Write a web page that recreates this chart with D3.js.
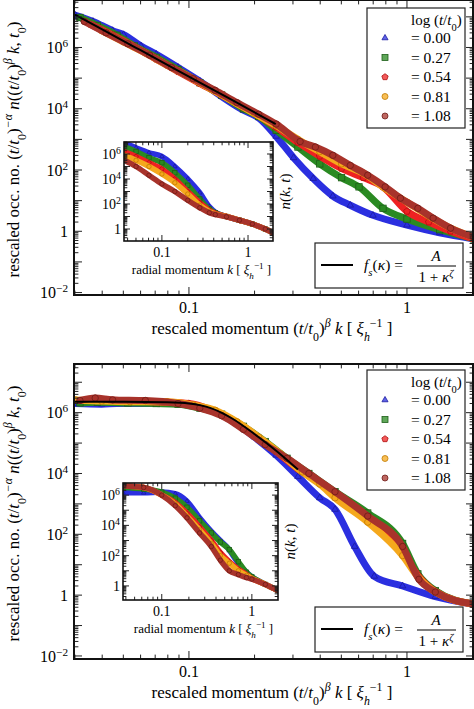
<!DOCTYPE html>
<html><head><meta charset="utf-8">
<script src="https://cdn.jsdelivr.net/npm/d3@7"></script>
<style>body{margin:0;background:#fff} svg, svg text {font-family:'Liberation Serif','DejaVu Serif',serif}</style>
</head><body>
<script>
// all values are [log10 k, log10 n]
var seriesNames = ["= 0.00", "= 0.27", "= 0.54", "= 0.81", "= 1.08"];
var seriesColors = ["#2b2fe0", "#2a8a22", "#ee2222", "#f5a81c", "#a8332b"];
var seriesStroke = ["#1a1aa0", "#1d5f18", "#b01010", "#c07a00", "#6e1c16"];
var seriesShapes = ["tri", "sq", "pent", "circ", "circ"];

// top panel, rescaled
var topFit = [[-1.523,7.07],[-1.398,6.59],[-1.222,5.91],[-1.0,5.05],[-0.824,4.37],[-0.602,3.50]];
var topBlue = [[-1.52,7.05],[-1.44,6.85],[-1.35,6.55],[-1.3,6.42],[-1.22,6.05],[-1.15,5.78],[-1.05,5.35],[-0.95,4.9],[-0.85,4.4],[-0.75,3.95],[-0.68,3.7],[-0.6,3.1],[-0.52,2.4],[-0.43,1.72],[-0.34,1.15],[-0.26,0.85],[-0.156,0.52],[0,0.2],[0.15,-0.05],[0.307,-0.25]];
var topGreen = [[-1.5,6.98],[-1.42,6.72],[-1.33,6.4],[-1.25,6.05],[-1.15,5.68],[-1.05,5.28],[-0.95,4.85],[-0.85,4.45],[-0.75,4.0],[-0.68,3.75],[-0.6,3.3],[-0.5,2.75],[-0.4,2.2],[-0.3,1.75],[-0.22,1.45],[-0.11,0.75],[0,0.4],[0.15,0.05],[0.307,-0.25]];
var topRed = [[-1.45,6.75],[-1.35,6.4],[-1.25,6.02],[-1.15,5.62],[-1.05,5.22],[-0.95,4.83],[-0.85,4.45],[-0.75,4.05],[-0.68,3.78],[-0.6,3.4],[-0.5,2.9],[-0.4,2.45],[-0.3,2.05],[-0.2,1.75],[-0.11,1.45],[0,0.65],[0.1,0.3],[0.2,0.0],[0.307,-0.25]];
var topOrange = [[-1.4,6.55],[-1.3,6.18],[-1.2,5.82],[-1.1,5.42],[-1.0,5.05],[-0.9,4.65],[-0.8,4.25],[-0.7,3.85],[-0.6,3.45],[-0.5,3.0],[-0.4,2.6],[-0.3,2.2],[-0.2,1.9],[-0.1,1.4],[0,0.95],[0.1,0.5],[0.2,0.1],[0.307,-0.2]];
var topBrown = [[-1.48,6.85],[-1.38,6.48],[-1.28,6.12],[-1.18,5.75],[-1.08,5.35],[-0.98,4.98],[-0.88,4.6],[-0.78,4.2],[-0.68,3.82],[-0.6,3.5],[-0.49,2.93],[-0.42,2.75],[-0.34,2.48],[-0.26,2.15],[-0.18,1.83],[-0.1,1.45],[-0.03,1.08],[0.05,0.75],[0.12,0.43],[0.2,0.1],[0.307,-0.2]];

// top inset, raw
var topInBlue = [[-1.44,6.9],[-1.3,6.5],[-1.15,6.1],[-1.0,5.8],[-0.85,5.0],[-0.7,4.0],[-0.56,2.9],[-0.45,1.8],[-0.38,1.35],[-0.25,1.0],[-0.1,0.7],[0.05,0.4],[0.2,0.0],[0.29,-0.3]];
var topInGreen = [[-1.44,6.6],[-1.3,6.2],[-1.15,5.7],[-1.0,5.3],[-0.85,4.5],[-0.7,3.5],[-0.56,2.4],[-0.45,1.6],[-0.38,1.3],[-0.25,1.0],[-0.1,0.7],[0.05,0.4],[0.2,0.0],[0.29,-0.3]];
var topInRed = [[-1.44,6.2],[-1.3,5.8],[-1.15,5.3],[-1.0,4.8],[-0.85,4.0],[-0.7,3.0],[-0.56,2.1],[-0.45,1.5],[-0.38,1.25],[-0.25,1.0],[-0.1,0.7],[0.05,0.4],[0.2,0.0],[0.29,-0.3]];
var topInOrange = [[-1.44,5.9],[-1.3,5.5],[-1.15,5.0],[-1.0,4.4],[-0.85,3.7],[-0.7,2.8],[-0.56,1.9],[-0.45,1.4],[-0.38,1.2],[-0.25,1.0],[-0.1,0.7],[0.05,0.4],[0.2,0.0],[0.29,-0.3]];
var topInBrown = [[-1.44,5.5],[-1.3,5.0],[-1.15,4.3],[-1.0,3.6],[-0.85,3.0],[-0.7,2.3],[-0.56,1.7],[-0.45,1.3],[-0.38,1.15],[-0.25,0.98],[-0.1,0.7],[0.05,0.4],[0.2,0.0],[0.29,-0.3]];

// bottom panel, rescaled
var botFit = [[-1.53,6.36],[-1.3,6.36],[-1.1,6.34],[-1.0,6.3],[-0.9,6.15],[-0.8,5.8],[-0.7,5.3],[-0.6,4.75],[-0.5,4.13]];
var botBlue = [[-1.52,6.3],[-1.4,6.28],[-1.33,6.3],[-1.2,6.3],[-1.1,6.32],[-1.0,6.25],[-0.9,6.08],[-0.8,5.72],[-0.7,5.2],[-0.6,4.6],[-0.5,3.9],[-0.4,3.2],[-0.33,2.82],[-0.24,1.6],[-0.15,0.62],[-0.02,0.3],[0.13,-0.05],[0.31,-0.3]];
var botGreen = [[-1.5,6.32],[-1.42,6.34],[-1.28,6.32],[-1.15,6.3],[-1.05,6.28],[-0.95,6.15],[-0.85,5.95],[-0.75,5.55],[-0.65,5.05],[-0.55,4.5],[-0.45,4.0],[-0.33,3.4],[-0.18,2.7],[-0.02,1.7],[0.05,0.7],[0.13,0.15],[0.31,-0.3]];
var botRed = [[-1.48,6.4],[-1.38,6.42],[-1.25,6.38],[-1.12,6.35],[-1.0,6.3],[-0.9,6.1],[-0.8,5.75],[-0.7,5.25],[-0.6,4.72],[-0.5,4.15],[-0.4,3.7],[-0.33,3.3],[-0.18,2.5],[-0.02,1.4],[0.05,0.65],[0.13,0.12],[0.31,-0.3]];
var botOrange = [[-1.52,6.42],[-1.4,6.38],[-1.27,6.36],[-1.1,6.36],[-0.98,6.25],[-0.88,6.08],[-0.78,5.7],[-0.68,5.2],[-0.58,4.65],[-0.48,4.05],[-0.4,3.65],[-0.33,3.2],[-0.18,2.4],[-0.02,1.3],[0.05,0.6],[0.13,0.1],[0.31,-0.3]];
var botBrown = [[-1.5,6.4],[-1.43,6.48],[-1.35,6.42],[-1.2,6.4],[-1.05,6.3],[-0.95,6.15],[-0.85,5.9],[-0.75,5.45],[-0.65,4.95],[-0.55,4.5],[-0.45,4.0],[-0.33,3.4],[-0.18,2.6],[-0.02,1.6],[0.055,0.52],[0.13,0.1],[0.31,-0.3]];

// bottom inset, raw
var botInBlue = [[-1.43,6.15],[-1.2,6.15],[-1.0,6.2],[-0.85,6.1],[-0.72,5.6],[-0.58,4.5],[-0.45,3.6],[-0.35,3.0],[-0.28,2.6],[-0.15,1.5],[-0.06,0.9],[0.0,0.6],[0.15,0.1],[0.29,-0.3]];
var botInGreen = [[-1.43,6.5],[-1.2,6.4],[-1.0,6.2],[-0.85,5.8],[-0.72,5.2],[-0.58,4.3],[-0.45,3.5],[-0.35,2.9],[-0.25,2.4],[-0.15,1.6],[-0.06,0.9],[0.0,0.6],[0.15,0.1],[0.29,-0.3]];
var botInRed = [[-1.43,6.6],[-1.2,6.5],[-1.0,6.0],[-0.85,5.5],[-0.72,4.8],[-0.58,3.9],[-0.45,3.0],[-0.35,2.2],[-0.25,1.6],[-0.15,1.1],[-0.06,0.75],[0.0,0.5],[0.15,0.1],[0.29,-0.3]];
var botInOrange = [[-1.43,6.6],[-1.2,6.5],[-1.0,6.0],[-0.85,5.4],[-0.72,4.6],[-0.58,3.7],[-0.45,2.8],[-0.35,2.0],[-0.25,1.5],[-0.15,1.0],[-0.06,0.7],[0.0,0.5],[0.15,0.1],[0.29,-0.3]];
var botInBrown = [[-1.43,6.6],[-1.2,6.5],[-1.0,6.0],[-0.85,5.3],[-0.72,4.5],[-0.58,3.5],[-0.45,2.6],[-0.35,1.7],[-0.25,1.0],[-0.15,0.75],[-0.06,0.55],[0.0,0.45],[0.15,0.1],[0.29,-0.3]];

var svg = d3.select("body").append("svg").attr("width", 474).attr("height", 709)
  .attr("font-family", "'Liberation Serif','DejaVu Serif',serif");

// rich text helper: parts are [text, flag] with flag i / sup / sub / isub
function rich(sel, parts) {
  parts.forEach(function(p) {
    var t = sel.append("tspan").text(p[0]);
    var f = p[1] || "";
    if (f.indexOf("i") >= 0) t.attr("font-style", "italic");
    if (f.indexOf("sup") >= 0) t.attr("baseline-shift", "super").attr("font-size", "70%");
    if (f.indexOf("sub") >= 0) t.attr("baseline-shift", "sub").attr("font-size", "70%");
  });
}

function drawSeries(g, x, y, sets, w, r) {
  var line = d3.line().x(function(d){return x(Math.pow(10,d[0]));}).y(function(d){return y(Math.pow(10,d[1]));}).curve(d3.curveMonotoneX);
  sets.forEach(function(s, i) {
    g.append("path").attr("d", line(s)).attr("fill","none").attr("stroke", seriesColors[i]).attr("stroke-width", w).attr("stroke-linecap","round");
    s.forEach(function(d) {
      var cx = x(Math.pow(10,d[0])), cy = y(Math.pow(10,d[1]));
      marker(g, seriesShapes[i], cx, cy, r, i);
    });
  });
}

// pentagon outline for the red markers
function pentagon(r) {
  var pts = d3.range(5).map(function(k) {
    var a = -Math.PI / 2 + k * 2 * Math.PI / 5;
    return [r * 1.1 * Math.cos(a), r * 1.1 * Math.sin(a)];
  });
  return "M" + pts.join("L") + "Z";
}

function marker(g, shape, cx, cy, r, i) {
  var m;
  if (shape == "tri") m = g.append("path").attr("d", d3.symbol(d3.symbolTriangle, r*r*1.8)()).attr("transform","translate("+cx+","+cy+")");
  else if (shape == "sq") m = g.append("rect").attr("x", cx-r).attr("y", cy-r).attr("width", 2*r).attr("height", 2*r);
  else if (shape == "pent") m = g.append("path").attr("d", pentagon(r)).attr("transform","translate("+cx+","+cy+")");
  else m = g.append("circle").attr("cx", cx).attr("cy", cy).attr("r", r);
  m.attr("fill", seriesColors[i]).attr("fill-opacity", 0.75).attr("stroke", seriesStroke[i]).attr("stroke-width", 0.8);
}

function logTicks(g, scale, lo, hi, axis, len, other) {
  for (var e = lo; e <= hi; e++) {
    for (var m = 1; m < 10; m++) {
      var v = m * Math.pow(10, e);
      var p = scale(v);
      var r = scale.range();
      if (p < Math.min(r[0], r[1]) - 0.1 || p > Math.max(r[0], r[1]) + 0.1) continue;
      var l = m == 1 ? len : len * 0.55;
      other.forEach(function(o) {
        if (axis == "x") g.append("line").attr("x1", p).attr("x2", p).attr("y1", o[0]).attr("y2", o[0] + o[1]*l);
        else g.append("line").attr("y1", p).attr("y2", p).attr("x1", o[0]).attr("x2", o[0] + o[1]*l);
      });
    }
  }
  g.selectAll("line").attr("stroke", "#222").attr("stroke-width", 1);
}

function yTickLabels(g, y, exps, xpos, size) {
  exps.forEach(function(e) {
    var t = g.append("text").attr("x", xpos).attr("y", y(Math.pow(10, e)) + size*0.35).attr("text-anchor","end").attr("font-size", size);
    if (e == 0) t.text("1");
    else rich(t, [["10"], [e < 0 ? "\u2212" + (-e) : String(e), "sup"]]);
  });
}

function panel(oy, d) {
  var x = d3.scaleLog().domain([0.0297, 2.03]).range([74, 474]);
  var y = d3.scaleLog().domain([Math.pow(10, d.ylo), Math.pow(10, d.yhi)]).range([oy + d.h, oy]);
  var g = svg.append("g");
  var clipId = "c" + oy;
  svg.append("clipPath").attr("id", clipId).append("rect").attr("x", 74).attr("y", oy).attr("width", 400).attr("height", d.h);
  var gd = g.append("g").attr("clip-path", "url(#" + clipId + ")");
  drawSeries(gd, x, y, d.main, 7, 3.2);
  var fl = d3.line().x(function(p){return x(Math.pow(10,p[0]));}).y(function(p){return y(Math.pow(10,p[1]));}).curve(d3.curveMonotoneX);
  gd.append("path").attr("d", fl(d.fit)).attr("fill","none").attr("stroke","#000").attr("stroke-width",2);

  var gt = g.append("g");
  logTicks(gt, x, -2, 0, "x", 8, [[oy + d.h, -1], [oy, 1]]);
  logTicks(gt.append("g"), y, -2, 7, "y", 8, [[74, 1], [474, -1]]);
  g.append("rect").attr("x", 74).attr("y", oy).attr("width", 399).attr("height", d.h).attr("fill","none").attr("stroke","#111").attr("stroke-width", 2);
  yTickLabels(g, y, [6, 4, 2, 0, -2], 68, 16);
  [[0.1, "0.1"], [1, "1"]].forEach(function(t) {
    g.append("text").attr("x", x(t[0])).attr("y", oy + d.h + 18).attr("text-anchor","middle").attr("font-size", 16).text(t[1]);
  });
  var xl = g.append("text").attr("x", 272).attr("y", oy + d.h + 39).attr("text-anchor","middle").attr("font-size", 17);
  rich(xl, [["rescaled momentum ("], ["t", "i"], ["/"], ["t", "i"], ["0", "sub"], [")"], ["\u03b2", "isup"], [" "], ["k", "i"], [" [ "], ["\u03be", "i"], ["h", "isub"], ["\u22121", "sup"], [" ]"]]);
  var yl = g.append("text").attr("transform", "translate(19," + (oy + d.h/2 + 2) + ") rotate(-90)").attr("text-anchor","middle").attr("font-size", 17);
  rich(yl, [["rescaled occ. no. ("], ["t", "i"], ["/"], ["t", "i"], ["0", "sub"], [")"], ["\u2212\u03b1", "isup"], [" "], ["n", "i"], ["(("], ["t", "i"], ["/"], ["t", "i"], ["0", "sub"], [")"], ["\u03b2", "isup"], [" "], ["k", "i"], [", "], ["t", "i"], ["0", "sub"], [")"]]);

  // inset
  var ix = d3.scaleLog().domain([Math.pow(10, d.in.xlo), Math.pow(10, d.in.xhi)]).range([d.in.x0, d.in.x1]);
  var iy = d3.scaleLog().domain([Math.pow(10, d.in.ylo), Math.pow(10, d.in.yhi)]).range([d.in.y1, d.in.y0]);
  g.append("rect").attr("x", d.in.x0).attr("y", d.in.y0).attr("width", d.in.x1 - d.in.x0).attr("height", d.in.y1 - d.in.y0).attr("fill","#fff");
  var cid2 = "ci" + oy;
  svg.append("clipPath").attr("id", cid2).append("rect").attr("x", d.in.x0).attr("y", d.in.y0).attr("width", d.in.x1 - d.in.x0).attr("height", d.in.y1 - d.in.y0);
  var gi = g.append("g").attr("clip-path", "url(#" + cid2 + ")");
  drawSeries(gi, ix, iy, d.inset, 5.5, 2.2);
  var git = g.append("g");
  logTicks(git, ix, -2, 0, "x", 6, [[d.in.y1, -1], [d.in.y0, 1]]);
  logTicks(git.append("g"), iy, -1, 7, "y", 6, [[d.in.x0, 1], [d.in.x1, -1]]);
  g.append("rect").attr("x", d.in.x0).attr("y", d.in.y0).attr("width", d.in.x1 - d.in.x0).attr("height", d.in.y1 - d.in.y0).attr("fill","none").attr("stroke","#111").attr("stroke-width", 1.6);
  yTickLabels(g, iy, [6, 4, 2, 0], d.in.x0 - 3, 14);
  [[0.1, "0.1"], [1, "1"]].forEach(function(t) {
    g.append("text").attr("x", ix(t[0])).attr("y", d.in.y1 + 16).attr("text-anchor","middle").attr("font-size", 14).text(t[1]);
  });
  var il = g.append("text").attr("x", (d.in.x0 + d.in.x1)/2 + 3).attr("y", d.in.y1 + 33).attr("text-anchor","middle").attr("font-size", 13);
  rich(il, [["radial momentum "], ["k", "i"], [" [ "], ["\u03be", "i"], ["h", "isub"], ["\u22121", "sup"], [" ]"]]);
  var nl = g.append("text").attr("transform", "translate(" + (d.in.x1 + 17) + "," + ((d.in.y0 + d.in.y1)/2) + ") rotate(-90)").attr("text-anchor","middle").attr("font-size", 15);
  rich(nl, [["n", "i"], ["("], ["k", "i"], [", "], ["t", "i"], [")"]]);

  // legend
  var L = d.leg;
  g.append("rect").attr("x", 367).attr("y", L).attr("width", 98).attr("height", 120).attr("fill","#fff").attr("stroke","#222").attr("stroke-width", 1.2);
  var lt = g.append("text").attr("x", 411).attr("y", L + 17).attr("font-size", 15);
  rich(lt, [["log ("], ["t", "i"], ["/"], ["t", "i"], ["0", "sub"], [")"]]);
  seriesNames.forEach(function(n, i) {
    var yy = L + 30 + i * 19.5;
    marker(g, seriesShapes[i], 385, yy, 3, i);
    g.append("text").attr("x", 411).attr("y", yy + 5).attr("font-size", 15.5).text(n);
  });
  var F = d.fitLeg;
  g.append("rect").attr("x", 315).attr("y", F).attr("width", 148).attr("height", 45).attr("fill","#fff").attr("stroke","#222").attr("stroke-width", 1.2);
  g.append("line").attr("x1", 321).attr("x2", 353).attr("y1", F + 22).attr("y2", F + 22).attr("stroke","#000").attr("stroke-width", 2);
  var ft = g.append("text").attr("x", 364).attr("y", F + 27).attr("font-size", 15.5);
  rich(ft, [["f", "i"], ["s", "isub"], ["("], ["\u03ba", "i"], [") ="]]);
  g.append("text").attr("x", 436).attr("y", F + 18).attr("text-anchor","middle").attr("font-size", 15).attr("font-style","italic").text("A");
  g.append("line").attr("x1", 417).attr("x2", 456).attr("y1", F + 23).attr("y2", F + 23).attr("stroke","#000").attr("stroke-width", 1);
  var den = g.append("text").attr("x", 436).attr("y", F + 39).attr("text-anchor","middle").attr("font-size", 15);
  rich(den, [["1 + "], ["\u03ba", "i"], ["\u03b6", "isup"]]);
}

panel(0, {h: 295, ylo: -2.08, yhi: 7.55, fit: topFit, main: [topBlue, topGreen, topRed, topOrange, topBrown],
  inset: [topInBlue, topInGreen, topInRed, topInOrange, topInBrown],
  in: {x0: 124, x1: 273, y0: 142, y1: 241, xlo: -1.44, xhi: 0.29, ylo: -0.96, yhi: 6.96},
  leg: 8, fitLeg: 243});
panel(364, {h: 295, ylo: -2.1, yhi: 7.6, fit: botFit, main: [botBlue, botGreen, botRed, botOrange, botBrown],
  inset: [botInBlue, botInGreen, botInRed, botInOrange, botInBrown],
  in: {x0: 123, x1: 278, y0: 483, y1: 600, xlo: -1.43, xhi: 0.29, ylo: -0.93, yhi: 6.8},
  leg: 370, fitLeg: 607});
</script>
</body></html>
